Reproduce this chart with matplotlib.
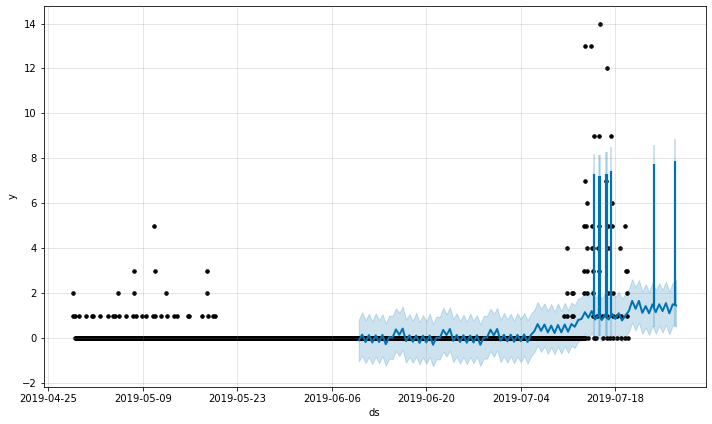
import matplotlib
matplotlib.use('Agg')
import matplotlib.pyplot as plt
import pandas as pd

START = pd.Timestamp('2019-04-25')

# observed points, in days since START
ones = [3.70, 3.95, 4.54, 5.63, 6.42, 6.67, 7.65, 8.79, 9.63, 9.88, 10.52, 11.56, 12.59, 12.99,
        13.93, 14.42, 15.56, 15.85, 16.69, 17.53, 18.62, 19.11, 20.74, 20.89, 22.81, 23.70,
        24.44, 24.64, 76.45, 76.79, 77.53, 77.78, 80.74, 81.24, 81.98, 82.72, 83.6, 84.3,
        84.79, 85.68]
twos = [3.70, 10.37, 12.74, 17.48, 23.56, 76.79, 77.53, 77.78, 79.41, 79.75, 80.74, 82.97,
        83.7, 85.68]
threes = [12.74, 15.85, 23.56, 79.41, 79.75, 80.64, 81.63, 85.53, 85.68]
fours = [76.89, 79.85, 80.5, 80.74, 81.48, 82.87, 84.74]
fives = [15.7, 79.41, 79.65, 80.54, 81.58, 82.97, 83.46, 85.48]
sixes = [79.85, 83.46]
sevens = [79.56, 82.67]
nines = [80.89, 81.63, 83.41]
twelves = [82.82]
thirteens = [79.56, 80.45]
fourteens = [81.78]
late_zeros = [80.0, 80.8, 81.2, 82.2, 82.7, 83.2, 83.7, 84.3, 84.8, 85.4, 85.9]

# forecast, one sample every 12 hours
yhat = [-.10, .15, -.18, .13, -.20, .12, -.18, .14, -.28, .04, .02, .38, .14, .42,
        -.14, .12, -.17, .11, -.22, .10, -.20, .11, -.30, .02, .00, .36, .13, .40,
        -.13, .13, -.18, .12, -.21, .11, -.20, .12, -.30, .02, .02, .37, .12, .40,
        -.12, .14, -.15, .15, -.17, .14, -.14, .16, -.18, .14,
        .30, .62, .32, .60, .25, .55, .22, .58, .25, .60, .28, .62, .50, .80,
        .85, 1.15, .90, 1.20, .82, 1.02, .80, 1.05, .82, 1.08, .85, 1.10, .78, 1.00,
        1.20, 1.65, 1.30, 1.65, 1.12, 1.42, 1.10, 1.50, 1.15, 1.50, 1.20, 1.55, 1.10, 1.50,
        1.45]
yhat_upper = [.80, 1.15, .78, 1.08, .72, 1.10, .80, 1.05, .65, 1.00, .98, 1.32, 1.12, 1.40,
              .82, 1.06, .76, 1.12, .70, 1.02, .74, 1.08, .62, .96, .94, 1.34, 1.06, 1.36,
              .84, 1.10, .74, 1.04, .72, 1.08, .78, 1.02, .60, .98, .98, 1.30, 1.08, 1.34,
              .80, 1.12, .82, 1.08, .76, 1.10, .84, 1.12, .78, 1.08,
              1.24, 1.60, 1.30, 1.54, 1.20, 1.52, 1.16, 1.54, 1.20, 1.56, 1.24, 1.58, 1.46, 1.76,
              1.80, 2.10, 1.86, 2.14, 1.78, 1.98, 1.74, 2.02, 1.76, 2.04, 1.82, 2.05, 1.74, 1.96,
              2.16, 2.62, 2.26, 2.58, 2.06, 2.40, 2.04, 2.46, 2.12, 2.44, 2.14, 2.52, 2.06, 2.46,
              2.60]
yhat_lower = [-1.05, -.78, -1.12, -.84, -1.16, -.82, -1.12, -.80, -1.24, -.92, -.94, -.58, -.80, -.52,
              -1.10, -.84, -1.10, -.82, -1.18, -.86, -1.14, -.84, -1.26, -.94, -.96, -.60, -.82, -.56,
              -1.08, -.82, -1.14, -.84, -1.16, -.84, -1.12, -.82, -1.24, -.92, -.92, -.58, -.84, -.54,
              -1.08, -.80, -1.10, -.80, -1.12, -.82, -1.08, -.78, -1.14, -.82,
              -.64, -.32, -.62, -.36, -.70, -.40, -.72, -.38, -.70, -.36, -.66, -.34, -.44, -.14,
              -.10, .20, -.04, .24, -.14, .08, -.14, .10, -.12, .12, -.10, .14, -.16, .06,
              .26, .70, .34, .68, .18, .46, .14, .54, .20, .56, .24, .60, .16, .56,
              .50]

# one off holiday style spikes in the forecast
spike_days = [80.8, 81.65, 81.75, 82.62, 82.72, 83.36, 89.78, 92.8]
spike_base = [1.0, 1.0, 1.0, 1.0, 1.0, 1.0, 1.4, 1.45]
spike_top = [7.29, 7.2, 7.2, 7.29, 7.29, 7.44, 7.75, 7.9]
spike_upper = [8.2, 8.13, 8.13, 8.3, 8.3, 8.5, 8.6, 8.85]
spike_lower = [0.1, 0.1, 0.1, 0.1, 0.1, 0.1, 0.5, 0.55]

tick_labels = ['2019-04-25', '2019-05-09', '2019-05-23', '2019-06-06',
               '2019-06-20', '2019-07-04', '2019-07-18']


def to_dates(days):
    return START + pd.to_timedelta(days, unit='D')


def main():
    W, H = 712, 424
    fig = plt.figure(figsize=(W / 72, H / 72), dpi=72, facecolor='white')
    ax = fig.add_axes([43.5 / W, 1 - 386.5 / H, (705.5 - 43.5) / W, (386.5 - 6) / H])

    # the zero row is one reading per hour, so it comes out as a solid bar
    zero_dates = pd.date_range('2019-04-29 00:00', '2019-07-13 12:00', freq='h')
    ax.plot(zero_dates, [0] * len(zero_dates), 'k.', ms=7)
    ax.plot(to_dates(late_zeros), [0] * len(late_zeros), 'k.', ms=7)
    for value, days in [(1, ones), (2, twos), (3, threes), (4, fours), (5, fives), (6, sixes),
                        (7, sevens), (9, nines), (12, twelves), (13, thirteens), (14, fourteens)]:
        ax.plot(to_dates(days), [value] * len(days), 'k.', ms=7)

    fcst_dates = pd.date_range('2019-06-10 00:00', periods=len(yhat), freq='12h')
    ax.plot(fcst_dates, yhat, ls='-', c='#0072B2', lw=2)
    ax.fill_between(fcst_dates, yhat_lower, yhat_upper, color='#0072B2', alpha=0.2)

    spike_dates = to_dates(spike_days)
    ax.vlines(spike_dates, spike_lower, spike_upper, color='#0072B2', alpha=0.2, lw=2)
    ax.vlines(spike_dates, spike_base, spike_top, color='#0072B2', lw=2.2)

    ax.set_xticks(pd.to_datetime(tick_labels))
    ax.set_xticklabels(tick_labels)
    ax.set_xlim(to_dates(-0.71), to_dates(97.36))
    ax.set_ylim(-2.16, 14.78)
    ax.grid(True, which='major', c='gray', ls='-', lw=1, alpha=0.2)
    ax.set_axisbelow(False)
    ax.set_xlabel('ds')
    ax.set_ylabel('y')

    fig.savefig('out.png', dpi=72)


if __name__ == "__main__":
    main()
